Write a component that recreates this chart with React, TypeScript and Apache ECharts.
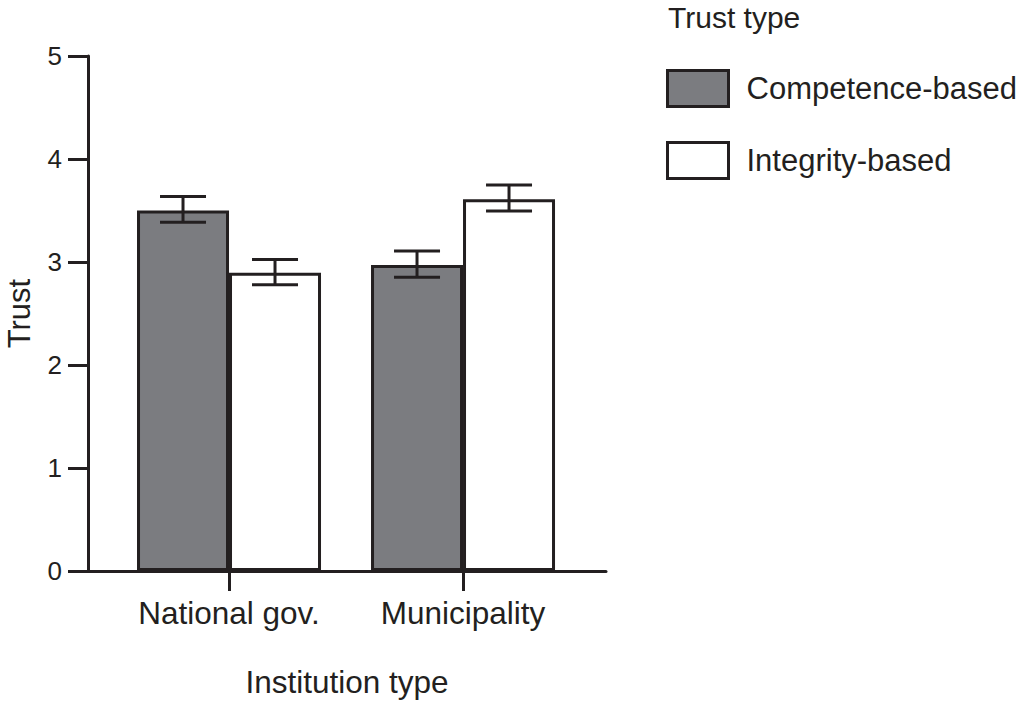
import React, { useEffect, useRef } from "react";
import * as echarts from "echarts";

// ---- data ----
const categories = ["National gov.", "Municipality"];
const categoryPositions = [1, 2];
const seriesNames = ["Competence-based", "Integrity-based"];
const competenceMean = [3.5, 2.97];
const competenceLow = [3.385, 2.853];
const competenceHigh = [3.635, 3.106];
const integrityMean = [2.895, 3.61];
const integrityLow = [2.78, 3.495];
const integrityHigh = [3.025, 3.748];
const yTickValues = [0, 1, 2, 3, 4, 5];

// ---- styles ----
const INK = "#231f20";
const GREY = "#7b7c80";
const WHITE = "#ffffff";
const FONT = "Liberation Sans, Arial, Helvetica, sans-serif";
const BAR_W = 92;
const CAP = 23;
const TXT = 31.5;

function makeErrorSeries(name: string, low: number[], high: number[], dx: number) {
  return {
    type: "custom",
    name,
    silent: true,
    z: 5,
    clip: false,
    data: categoryPositions.map((x, i) => [x, low[i], high[i]]),
    encode: { x: 0, y: [1, 2] },
    renderItem: (_params: any, api: any) => {
      const x = api.value(0);
      const lo = api.value(1);
      const hi = api.value(2);
      const pHi = api.coord([x, hi]);
      const pLo = api.coord([x, lo]);
      const cx = pHi[0] + dx;
      const style = { stroke: INK, lineWidth: 3 };
      return {
        type: "group",
        children: [
          { type: "line", shape: { x1: cx, y1: pHi[1], x2: cx, y2: pLo[1] }, style },
          { type: "line", shape: { x1: cx - CAP, y1: pHi[1], x2: cx + CAP, y2: pHi[1] }, style },
          { type: "line", shape: { x1: cx - CAP, y1: pLo[1], x2: cx + CAP, y2: pLo[1] }, style },
        ],
      };
    },
  };
}

export default function App() {
  const ref = useRef<HTMLDivElement>(null);

  useEffect(() => {
    document.body.style.margin = "0";
    if (!ref.current) return;
    const chart = echarts.init(ref.current, null, { renderer: "svg" });
    const option: any = {
      animation: false,
      backgroundColor: "#ffffff",
      textStyle: { fontFamily: FONT, color: INK },
      title: {
        text: "Trust type",
        left: 668,
        top: 2,
        padding: 0,
        textStyle: { fontFamily: FONT, fontSize: 30, lineHeight: 30, fontWeight: "normal", color: INK },
      },
      legend: {
        orient: "vertical",
        left: 666,
        top: 69,
        padding: 0,
        itemWidth: 61,
        itemHeight: 36,
        itemGap: 33,
        icon: "rect",
        selectedMode: false,
        textStyle: { fontFamily: FONT, fontSize: 31, color: INK, padding: [0, 0, 0, 13] },
        data: [
          { name: seriesNames[0], itemStyle: { color: GREY, borderColor: INK, borderWidth: 3 } },
          { name: seriesNames[1], itemStyle: { color: WHITE, borderColor: INK, borderWidth: 3 } },
        ],
      },
      grid: { left: 88, right: 414, top: 56, bottom: 133, containLabel: false, outerBoundsMode: "none" },
      xAxis: {
        type: "value",
        min: 0.3974,
        max: 2.611,
        name: "Institution type",
        nameLocation: "middle",
        nameGap: 95,
        nameTextStyle: { fontFamily: FONT, fontSize: TXT, color: INK },
        axisLine: { show: true, onZero: false, lineStyle: { color: INK, width: 3 } },
        axisTick: { show: true, length: 20, customValues: categoryPositions, lineStyle: { color: INK, width: 3 } },
        axisLabel: {
          customValues: categoryPositions,
          formatter: (v: number) => categories[categoryPositions.indexOf(Math.round(v))] ?? "",
          fontFamily: FONT,
          fontSize: TXT,
          color: INK,
          margin: 26,
        },
        splitLine: { show: false },
      },
      yAxis: {
        type: "value",
        min: yTickValues[0],
        max: yTickValues[yTickValues.length - 1],
        interval: 1,
        name: "Trust",
        nameLocation: "middle",
        nameRotate: 90,
        nameGap: 53,
        nameTextStyle: { fontFamily: FONT, fontSize: 31, color: INK },
        axisLine: { show: true, onZero: false, lineStyle: { color: INK, width: 3 } },
        axisTick: { show: true, length: 20, lineStyle: { color: INK, width: 3 } },
        axisLabel: { fontFamily: FONT, fontSize: 26, color: INK, margin: 26 },
        splitLine: { show: false },
      },
      series: [
        {
          type: "bar",
          name: seriesNames[0],
          barWidth: BAR_W,
          barGap: "0%",
          data: categoryPositions.map((x, i) => [x, competenceMean[i]]),
          itemStyle: { color: GREY, borderColor: INK, borderWidth: 3 },
        },
        {
          type: "bar",
          name: seriesNames[1],
          barWidth: BAR_W,
          barGap: "0%",
          data: categoryPositions.map((x, i) => [x, integrityMean[i]]),
          itemStyle: { color: WHITE, borderColor: INK, borderWidth: 3 },
        },
        makeErrorSeries("Competence error", competenceLow, competenceHigh, -BAR_W / 2),
        makeErrorSeries("Integrity error", integrityLow, integrityHigh, BAR_W / 2),
      ],
    };
    chart.setOption(option);
    return () => chart.dispose();
  }, []);

  return <div ref={ref} style={{ width: 1020, height: 704 }} />;
}
